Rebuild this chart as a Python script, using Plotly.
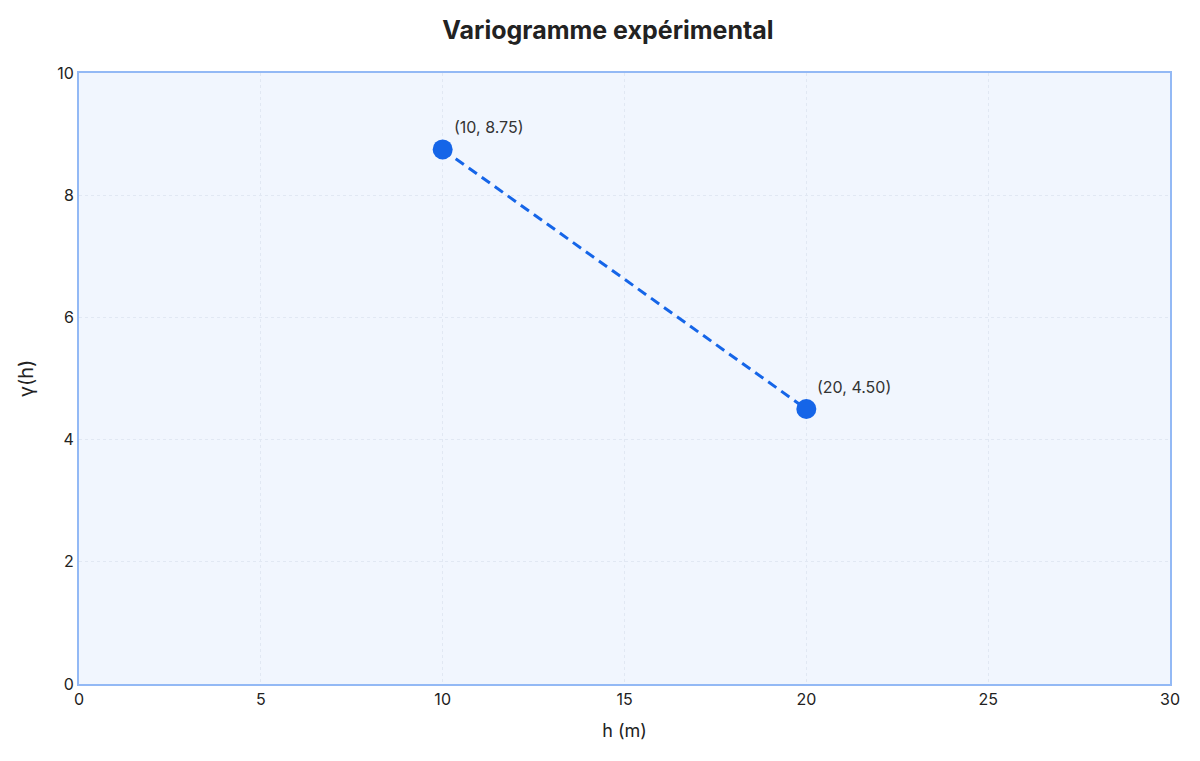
import plotly.graph_objects as go

# lag distances and semivariance values
h_values = [10, 20]
gamma_values = [8.75, 4.50]
point_labels = ["(10, 8.75)", "(20, 4.50)"]

x_ticks = [0, 5, 10, 15, 20, 25, 30]
y_ticks = [0, 2, 4, 6, 8, 10]

blue = "#1565e8"
border = "#93b9f5"

fig = go.Figure()
fig.add_trace(go.Scatter(
    x=h_values, y=gamma_values,
    mode="lines+markers",
    line=dict(color=blue, width=3, dash="10px,6px"),
    marker=dict(color=blue, size=20),
    showlegend=False,
))

# point labels, placed above-right of each marker
for x, y, t in zip(h_values, gamma_values, point_labels):
    fig.add_annotation(x=x, y=y, text=t, showarrow=False,
                       xanchor="left", yanchor="bottom",
                       xshift=9, yshift=10,
                       font=dict(size=16, color="#333333"))

axis_common = dict(
    showgrid=True, gridcolor="#e1e8f3", griddash="dot", gridwidth=1,
    showline=True, linecolor=border, linewidth=2, mirror=True,
    zeroline=False, ticks="", tickfont=dict(size=16, color="#222222"),
)

fig.update_layout(
    width=1200, height=761,
    title=dict(text="<b>Variogramme expérimental</b>", x=0.5, xanchor="center",
               yref="container", y=0.971, yanchor="middle",
               font=dict(size=25, color="#222222")),
    font=dict(family="Inter, Lato, sans-serif"),
    paper_bgcolor="white",
    plot_bgcolor="#f1f6fe",
    margin=dict(l=71, r=38, t=65, b=85),
    xaxis=dict(range=[0, 30], tickvals=x_ticks,
               title=dict(text="h (m)", font=dict(size=18, color="#222222"), standoff=16),
               **axis_common),
    yaxis=dict(range=[0, 10], tickvals=y_ticks,
               title=dict(text="γ(h)", font=dict(size=20, color="#222222"), standoff=18),
               **axis_common),
)

fig.write_html("out.html")
